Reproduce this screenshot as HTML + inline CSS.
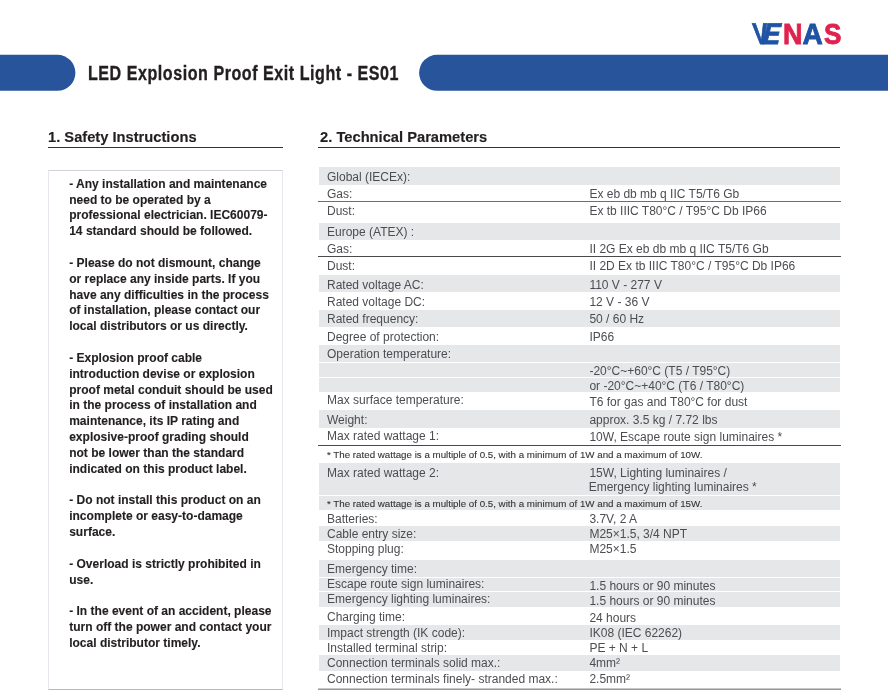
<!DOCTYPE html>
<html lang="en"><head><meta charset="utf-8"><title>LED Explosion Proof Exit Light - ES01</title>
<style>
html,body{margin:0;padding:0;background:#fff}
body{width:888px;height:695px;position:relative;overflow:hidden;font-family:"Liberation Sans",sans-serif}
.title{position:absolute;left:88.4px;top:59.4px;font-weight:bold;font-size:19.6px;line-height:28px;color:#231f20;white-space:nowrap;transform:scaleX(.82);transform-origin:0 0;letter-spacing:.66px;-webkit-text-stroke:.35px #231f20}
.h{position:absolute;font-weight:bold;font-size:14.7px;-webkit-text-stroke:.15px #231f20;line-height:18px;color:#231f20;white-space:nowrap}
.ul{position:absolute;height:1.3px;background:#333}
.box{position:absolute;left:48px;top:170px;width:233.3px;height:517.9px;border:1px solid #e6e8ee;border-bottom-color:#b4b9c6;border-top-color:#cfd2d9}
.s{position:absolute;left:69.2px;font-weight:bold;font-size:12.02px;-webkit-text-stroke:.12px #231f20;line-height:14px;color:#231f20;white-space:nowrap}
.st{position:absolute;left:319.3px;width:520.7px;background:#e6e7e8}
.ln{position:absolute;left:318.3px;width:522.5px;height:1.2px}
.t{position:absolute;font-size:12px;line-height:14px;margin-top:-11px;color:#4c4d52;white-space:nowrap}
.n{position:absolute;font-size:9.75px;line-height:12px;margin-top:-9px;color:#333335;-webkit-text-stroke:.1px #333335;white-space:nowrap}
</style></head><body>
<svg style="position:absolute;left:0;top:0" width="888" height="100" viewBox="0 0 888 100"><path d="M0,54.8H57.4A18,18 0 0 1 57.4,90.8H0Z" fill="#27549b"/><path d="M888,54.8H437.1A18,18 0 0 0 437.1,90.8H888Z" fill="#27549b"/></svg>
<div class="title">LED Explosion Proof Exit Light - ES01</div>
<svg style="position:absolute;left:745px;top:15px" width="110" height="40" viewBox="0 0 110 40" font-family="Liberation Sans, sans-serif" font-weight="bold" font-size="30" stroke-width="0.9" stroke-linejoin="miter" role="img" aria-label="VENAS"><text transform="translate(9.6,29.0) skewX(7) scale(.74,1)" fill="#1f53a3" stroke="#1f53a3">V</text><text transform="translate(16.2,29.0) skewX(-13) scale(.87,1)" fill="#1f53a3" stroke="#1f53a3">E</text><text transform="translate(38.0,29.0) scale(.90,1)" fill="#e0234e" stroke="#e0234e">N</text><text transform="translate(57.6,29.0) scale(.935,1)" fill="#1f53a3" stroke="#1f53a3">A</text><text transform="translate(79.0,29.0) scale(.87,1)" fill="#e0234e" stroke="#e0234e">S</text></svg>
<div class="h" style="left:48px;top:127.5px">1. Safety Instructions</div>
<div class="ul" style="left:48px;top:146.6px;width:235px"></div>
<div class="h" style="left:320.1px;top:127.5px">2. Technical Parameters</div>
<div class="ul" style="left:318.3px;top:146.8px;width:521.7px"></div>
<div class="box"></div>

<div class="s" style="top:176.80px">- Any installation and maintenance</div>
<div class="s" style="top:192.63px">need to be operated by a</div>
<div class="s" style="top:208.46px">professional electrician. IEC60079-</div>
<div class="s" style="top:224.29px">14 standard should be followed.</div>
<div class="s" style="top:255.95px">- Please do not dismount, change</div>
<div class="s" style="top:271.78px">or replace any inside parts. If you</div>
<div class="s" style="top:287.61px">have any difficulties in the process</div>
<div class="s" style="top:303.44px">of installation, please contact our</div>
<div class="s" style="top:319.27px">local distributors or us directly.</div>
<div class="s" style="top:350.93px">- Explosion proof cable</div>
<div class="s" style="top:366.76px">introduction devise or explosion</div>
<div class="s" style="top:382.59px">proof metal conduit should be used</div>
<div class="s" style="top:398.42px">in the process of installation and</div>
<div class="s" style="top:414.25px">maintenance, its IP rating and</div>
<div class="s" style="top:430.08px">explosive-proof grading should</div>
<div class="s" style="top:445.91px">not be lower than the standard</div>
<div class="s" style="top:461.74px">indicated on this product label.</div>
<div class="s" style="top:493.40px">- Do not install this product on an</div>
<div class="s" style="top:509.23px">incomplete or easy-to-damage</div>
<div class="s" style="top:525.06px">surface.</div>
<div class="s" style="top:556.72px">- Overload is strictly prohibited in</div>
<div class="s" style="top:572.55px">use.</div>
<div class="s" style="top:604.21px">- In the event of an accident, please</div>
<div class="s" style="top:620.04px">turn off the power and contact your</div>
<div class="s" style="top:635.87px">local distributor timely.</div>
<div class="st" style="top:167.0px;height:17.5px"></div>
<div class="st" style="top:223.0px;height:16.8px"></div>
<div class="st" style="top:275.2px;height:17.0px"></div>
<div class="st" style="top:309.8px;height:16.8px"></div>
<div class="st" style="top:344.9px;height:17.3px"></div>
<div class="st" style="top:362.8px;height:14.5px"></div>
<div class="st" style="top:377.9px;height:14.0px"></div>
<div class="st" style="top:410.1px;height:17.7px"></div>
<div class="st" style="top:463.2px;height:31.8px"></div>
<div class="st" style="top:495.8px;height:14.1px"></div>
<div class="st" style="top:526.1px;height:14.6px"></div>
<div class="st" style="top:559.5px;height:17.7px"></div>
<div class="st" style="top:577.9px;height:13.2px"></div>
<div class="st" style="top:591.7px;height:14.9px"></div>
<div class="st" style="top:624.6px;height:15.3px"></div>
<div class="st" style="top:655.1px;height:15.9px"></div>
<div class="ln" style="top:200.8px;background:#6d6e71"></div>
<div class="ln" style="top:256.2px;background:#4a4a4c"></div>
<div class="ln" style="top:444.8px;background:#4a4a4c"></div>
<div class="ln" style="top:688px;height:2px;background:linear-gradient(#c6c7c9 50%,#96979a 50%)"></div>
<div class="t" style="left:327px;top:181px">Global (IECEx):</div>
<div class="t" style="left:327px;top:198px">Gas:</div>
<div class="t" style="left:589.4px;top:198px">Ex eb db mb q IIC T5/T6 Gb</div>
<div class="t" style="left:327px;top:215px">Dust:</div>
<div class="t" style="left:589.4px;top:215px">Ex tb IIIC T80°C / T95°C Db IP66</div>
<div class="t" style="left:327px;top:236px">Europe (ATEX) :</div>
<div class="t" style="left:327px;top:253px">Gas:</div>
<div class="t" style="left:589.4px;top:253px">II 2G Ex eb db mb q IIC T5/T6 Gb</div>
<div class="t" style="left:327px;top:270px">Dust:</div>
<div class="t" style="left:589.4px;top:270px">II 2D Ex tb IIIC T80°C / T95°C Db IP66</div>
<div class="t" style="left:327px;top:289px">Rated voltage AC:</div>
<div class="t" style="left:589.4px;top:289px">110 V - 277 V</div>
<div class="t" style="left:327px;top:306px">Rated voltage DC:</div>
<div class="t" style="left:589.4px;top:306px">12 V - 36 V</div>
<div class="t" style="left:327px;top:323px">Rated frequency:</div>
<div class="t" style="left:589.4px;top:323px">50 / 60 Hz</div>
<div class="t" style="left:327px;top:341px">Degree of protection:</div>
<div class="t" style="left:589.4px;top:341px">IP66</div>
<div class="t" style="left:327px;top:358px">Operation temperature:</div>
<div class="t" style="left:589.4px;top:375px">-20°C~+60°C (T5 / T95°C)</div>
<div class="t" style="left:589.4px;top:390px">or -20°C~+40°C (T6 / T80°C)</div>
<div class="t" style="left:327px;top:404px">Max surface temperature:</div>
<div class="t" style="left:589.4px;top:406px">T6 for gas and T80°C for dust</div>
<div class="t" style="left:327px;top:424px">Weight:</div>
<div class="t" style="left:589.4px;top:424px">approx. 3.5 kg / 7.72 lbs</div>
<div class="t" style="left:327px;top:440px">Max rated wattage 1:</div>
<div class="t" style="left:589.4px;top:441px">10W, Escape route sign luminaires *</div>
<div class="t" style="left:327px;top:477px">Max rated wattage 2:</div>
<div class="t" style="left:589.4px;top:477px">15W, Lighting luminaires /</div>
<div class="t" style="left:588.6999999999999px;top:491px">Emergency lighting luminaires *</div>
<div class="t" style="left:327px;top:523px">Batteries:</div>
<div class="t" style="left:589.4px;top:523px">3.7V, 2 A</div>
<div class="t" style="left:327px;top:538px">Cable entry size:</div>
<div class="t" style="left:589.4px;top:538px">M25×1.5, 3/4 NPT</div>
<div class="t" style="left:327px;top:553px">Stopping plug:</div>
<div class="t" style="left:589.4px;top:553px">M25×1.5</div>
<div class="t" style="left:327px;top:573px">Emergency time:</div>
<div class="t" style="left:327px;top:588px">Escape route sign luminaires:</div>
<div class="t" style="left:589.4px;top:590px">1.5 hours or 90 minutes</div>
<div class="t" style="left:327px;top:603px">Emergency lighting luminaires:</div>
<div class="t" style="left:589.4px;top:605px">1.5 hours or 90 minutes</div>
<div class="t" style="left:327px;top:621px">Charging time:</div>
<div class="t" style="left:589.4px;top:622px">24 hours</div>
<div class="t" style="left:327px;top:637px">Impact strength (IK code):</div>
<div class="t" style="left:589.4px;top:637px">IK08 (IEC 62262)</div>
<div class="t" style="left:327px;top:652px">Installed terminal strip:</div>
<div class="t" style="left:589.4px;top:652px">PE + N + L</div>
<div class="t" style="left:327px;top:667px">Connection terminals solid max.:</div>
<div class="t" style="left:589.4px;top:667px">4mm²</div>
<div class="t" style="left:327px;top:683px">Connection terminals finely- stranded max.:</div>
<div class="t" style="left:589.4px;top:683px">2.5mm²</div>
<div class="n" style="left:327px;top:458px">* The rated wattage is a multiple of 0.5, with a minimum of 1W and a maximum of 10W.</div>
<div class="n" style="left:327px;top:507px">* The rated wattage is a multiple of 0.5, with a minimum of 1W and a maximum of 15W.</div>
</body></html>
